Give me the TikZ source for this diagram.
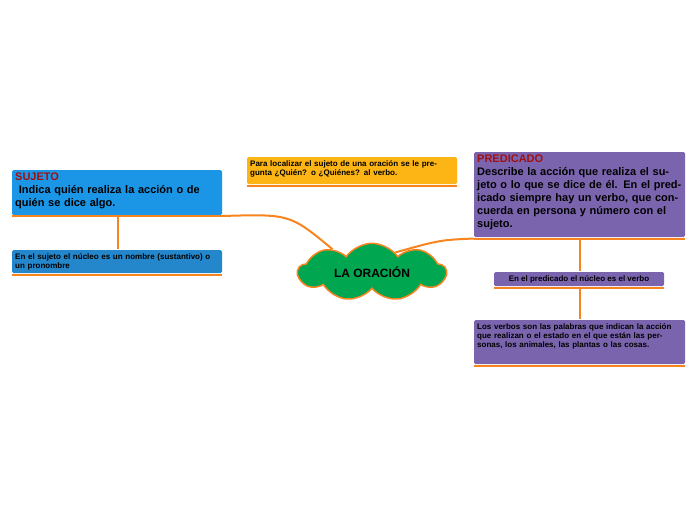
\documentclass[tikz,border=0pt]{standalone}
\usepackage{fontspec}
\setmainfont{Liberation Sans}
\usetikzlibrary{shapes.symbols}
\definecolor{bl}{HTML}{1B95E5}
\definecolor{bl2}{HTML}{2487CB}
\definecolor{yel}{HTML}{FDB515}
\definecolor{pur}{HTML}{7B64AE}
\definecolor{org}{HTML}{F7841E}
\definecolor{grn}{HTML}{00A650}
\definecolor{dred}{HTML}{A01010}
\begin{document}
\begin{tikzpicture}[x=1pt,y=-1pt,
 box/.style={anchor=north west,rounded corners=1.5pt,inner sep=3pt,align=left,font=\bfseries},
 ln/.style={draw=org,line width=2pt},
 big/.style={font=\fontsize{11}{13}\selectfont\bfseries},
 small/.style={font=\fontsize{8}{9}\selectfont\bfseries}]
\useasboundingbox (0,0) rectangle (696,520);
\fill[bl,rounded corners=1.5pt] (12,170) rectangle (222,215);
\node[box,big,text width=204pt] (suj) at (12,170) {\textcolor{dred}{SUJETO}\\ \ Indica quién realiza la acción o de quién se dice algo.};
\fill[bl2,rounded corners=1.5pt] (12,250) rectangle (222,273);
\node[box,small,text width=204pt] (nuc) at (12,250) {En el sujeto el núcleo es un nombre (sustantivo) o un pronombre};
\fill[yel,rounded corners=1.5pt] (247,157) rectangle (457,184);
\node[box,small,text width=204pt] (note) at (247,157) {Para localizar el sujeto de una oración se le pregunta ¿Quién? o ¿Quiénes? al verbo.};
\fill[pur,rounded corners=1.5pt] (474,152) rectangle (685,237);
\node[box,big,text width=205pt] (pred) at (474,152) {\textcolor{dred}{PREDICADO}\\ Describe la acción que realiza el sujeto o lo que se dice de él. En el predicado siempre hay un verbo, que concuerda en persona y número con el sujeto.};
\fill[pur,rounded corners=1.5pt] (494,272) rectangle (664,286);
\node[box,small,anchor=center,inner sep=0pt] (pn) at (579,279) {En el predicado el núcleo es el verbo};
\fill[pur,rounded corners=1.5pt] (474,320) rectangle (685,364);
\node[box,small,text width=205pt] (verb) at (474,320) {Los verbos son las palabras que indican la acción que realizan o el estado en el que están las personas, los animales, las plantas o las cosas.};
\node[cloud,cloud puffs=9,cloud puff arc=110,aspect=3,draw=org,line width=1.5pt,fill=grn,minimum width=148pt,minimum height=50pt,font=\fontsize{12}{14}\selectfont\bfseries] (c) at (372,272) {LA ORACIÓN};
% underlines
\coordinate (s1) at (12,216); \coordinate (s2) at (222,216);
\draw[ln] (s1) -- (s2);
\draw[ln] (12,275) -- (222,275);
\draw[ln] (247,185.5) -- (457,185.5);
\coordinate (p1) at (474,238.5); \coordinate (p2) at (685,238.5);
\draw[ln] (p1) -- (p2);
\draw[ln] (494,287.5) -- (664,287.5);
\draw[ln] (474,365.5) -- (685,365.5);
% connectors
\draw[ln] (s2) .. controls (290,214) .. (c.150);
\draw[ln] (c.40) .. controls (440,240) .. (p1);
\draw[ln] (118,217) -- (118,249);
\draw[ln] (580,239) -- (580,271);
\draw[ln] (580,288) -- (580,319);
\end{tikzpicture}
\end{document}
